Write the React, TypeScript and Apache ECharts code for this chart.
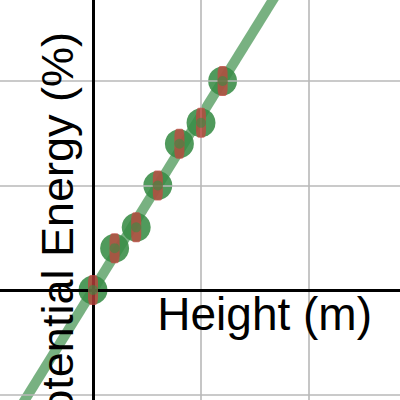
import { useEffect, useRef } from 'react';
import * as echarts from 'echarts';

// measured points
const heightM = [0, 1, 2, 3, 4, 5, 6];
const energyPct = [0, 20, 30, 50, 70, 80, 100];

// best-fit line endpoints (runs off both edges)
const fitX = [-4, 9];
const fitY = [-66.7, 150];

// grid lines and visible window
const gridX = [5, 10];
const gridY = [-50, 50, 100];
const xRange = [-4.306, 14.213];
const yRange = [-52.63, 138.76];

const GREEN = '#388c46';
const RED = '#c74440';
const FONT = '"Liberation Sans", Arial, sans-serif';

export default function App() {
  const ref = useRef<HTMLDivElement>(null);

  useEffect(() => {
    if (!ref.current) return;
    const chart = echarts.init(ref.current, null, { renderer: 'svg' });
    const pts = heightM.map((h, i) => [h, energyPct[i]]);

    chart.setOption({
      animation: false,
      backgroundColor: '#fff',
      grid: { left: 0, right: 0, top: 0, bottom: 0 },
      xAxis: {
        type: 'value',
        min: xRange[0],
        max: xRange[1],
        axisLine: { show: false },
        axisTick: { show: false },
        axisLabel: { show: false },
        splitLine: { show: false },
      },
      yAxis: {
        type: 'value',
        min: yRange[0],
        max: yRange[1],
        axisLine: { show: false },
        axisTick: { show: false },
        axisLabel: { show: false },
        splitLine: { show: false },
      },
      graphic: [
        {
          type: 'text',
          x: 372,
          y: 314,
          z: 10,
          style: {
            text: 'Height (m)',
            font: `46px ${FONT}`,
            fill: '#000',
            align: 'right',
            verticalAlign: 'middle',
          },
        },
        {
          type: 'text',
          x: 57,
          y: 32,
          rotation: Math.PI / 2,
          z: 10,
          style: {
            text: 'Potential Energy (%)',
            font: `45px ${FONT}`,
            fill: '#000',
            align: 'right',
            verticalAlign: 'middle',
          },
        },
      ],
      series: [
        {
          type: 'scatter',
          data: [],
          z: 1,
          silent: true,
          markLine: {
            silent: true,
            symbol: 'none',
            label: { show: false },
            lineStyle: { type: 'solid', color: '#b8b8b8', width: 1.6 },
            data: [
              ...gridX.map((v) => ({ xAxis: v })),
              ...gridY.map((v) => ({ yAxis: v })),
            ],
          },
        },
        {
          type: 'scatter',
          data: [],
          z: 2,
          silent: true,
          markLine: {
            silent: true,
            symbol: 'none',
            label: { show: false },
            lineStyle: { type: 'solid', color: '#000', width: 3 },
            data: [{ xAxis: 0 }, { yAxis: 0 }],
          },
        },
        {
          type: 'line',
          z: 3,
          silent: true,
          showSymbol: false,
          data: fitX.map((x, i) => [x, fitY[i]]),
          lineStyle: { color: GREEN, width: 10, opacity: 0.68 },
        },
        {
          type: 'scatter',
          z: 4,
          symbolSize: 29,
          data: pts,
          itemStyle: { color: GREEN, opacity: 0.88 },
        },
        {
          type: 'scatter',
          z: 5,
          symbol: 'roundRect',
          symbolSize: [10, 30],
          data: pts,
          itemStyle: { color: RED, opacity: 0.75 },
        },
        {
          type: 'scatter',
          z: 6,
          symbolSize: 10,
          data: pts,
          itemStyle: { color: GREEN, opacity: 0.6 },
        },
      ],
    });

    return () => chart.dispose();
  }, []);

  return (
    <div
      ref={ref}
      style={{ position: 'fixed', left: 0, top: 0, width: 400, height: 400 }}
    />
  );
}
